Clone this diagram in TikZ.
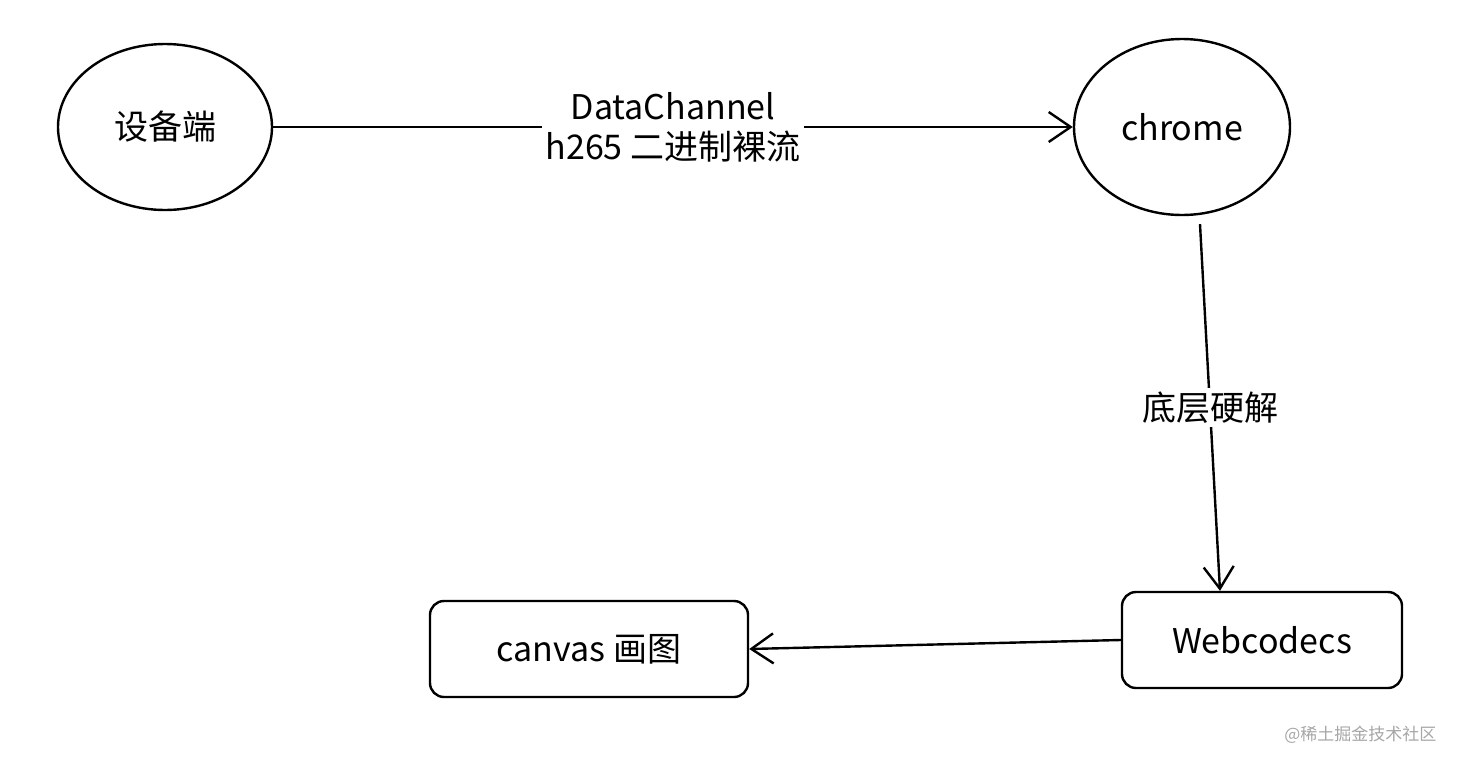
\documentclass[tikz,border=0pt]{standalone}
\usepackage{fontspec}
\setmainfont{Noto Sans CJK SC}
\usetikzlibrary{arrows.meta,positioning,shapes.geometric}
\tikzset{
  sketch/.style={draw=black,line width=2.4pt},
  blob/.style={sketch,ellipse,minimum width=214pt,minimum height=166pt,font=\fontsize{34}{40}\selectfont},
  box/.style={sketch,rounded corners=14pt,minimum height=96pt,font=\fontsize{34}{40}\selectfont},
  flow/.style={black,line width=2.4pt,-{Straight Barb[length=22pt,width=30pt,line width=2.4pt]}},
  tag/.style={fill=white,inner sep=4pt,align=center,font=\fontsize{34}{40}\selectfont}
}
\begin{document}
\begin{tikzpicture}[x=1pt,y=-1pt]
\useasboundingbox (0,0) rectangle (1460,766);

% nodes
\node[blob] (dev) at (165,127) {设备端};
\node[blob,minimum width=216pt,minimum height=176pt] (chrome) at (1182,127) {chrome};
\node[box,minimum width=280pt] (codec) at (1262,640) {Webcodecs};
\node[box,minimum width=318pt] (canvas) at (589,649) {canvas 画图};

% connectors
\draw[flow] (dev.east) -- (chrome.west)
  node[tag,midway] {DataChannel\\h265 二进制裸流};
\draw[flow] (chrome.south) ++(18,8) coordinate (c1) (c1) -- (codec.north-|1220,0)
  node[tag,pos=0.5] {底层硬解};
\draw[flow] (codec.west) -- (canvas.east);

% watermark
\node[text=gray!70,font=\fontsize{17}{20}\selectfont,anchor=east] (wm) at (1440,735) {@稀土掘金技术社区};
\end{tikzpicture}
\end{document}
